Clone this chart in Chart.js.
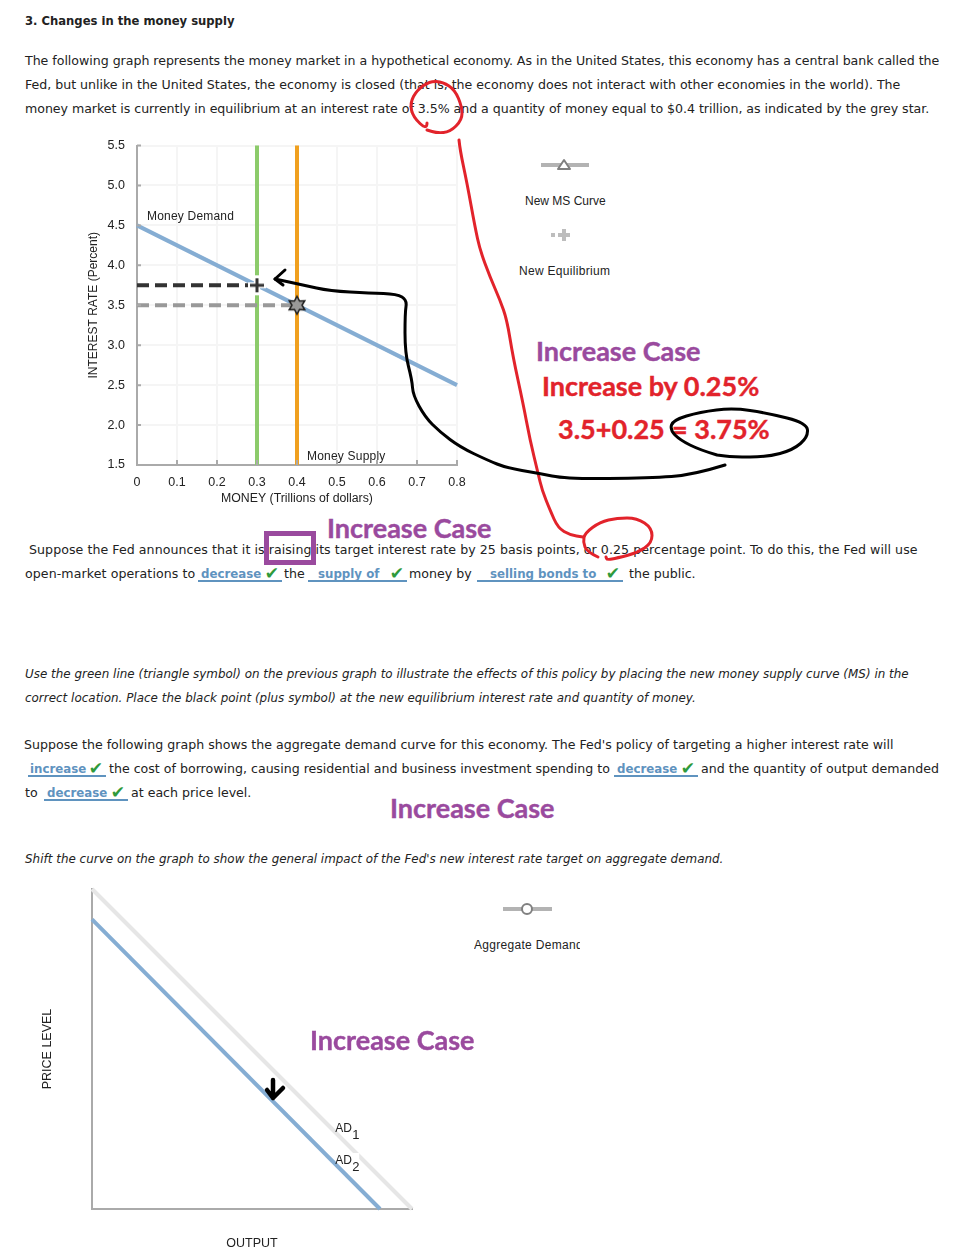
<!DOCTYPE html>
<html>
<head>
<meta charset="utf-8">
<script src="https://cdn.jsdelivr.net/npm/chart.js@4"></script>
<style>
html, body { margin: 0; padding: 0; background: #fff; }
#page { position: relative; width: 960px; height: 1256px; overflow: hidden; }
canvas.chart { position: absolute; }
.t { position: absolute; margin-top: 1px; white-space: pre; font: 12.6px/18px "DejaVu Sans", sans-serif; color: #222; }
.i { font-size: 11.9px; font-style: italic; letter-spacing: 0.03px; }
.b { font-size: 11.6px; font-weight: bold; }
.chip { position: absolute; box-sizing: content-box; height: 16px; border-bottom: 2px solid #5f93bf; white-space: pre; font: bold 11.8px/20px "DejaVu Sans", sans-serif; color: #5f93bf; }
.chip b { position: absolute; right: 3px; top: -1px; color: #2f9a3c; font-size: 17px; }
.lg { position: absolute; white-space: pre; font: 12px/14px "Liberation Sans", sans-serif; color: #222; }
.big { position: absolute; margin-top: -1px; white-space: pre; font: bold 27px/30px Lato, sans-serif; color: #9a4a9e; -webkit-text-stroke: 0.4px currentColor; }
.red { color: #e2232b; }
svg { position: absolute; left: 0; top: 0; pointer-events: none; }
</style>
</head>
<body>
<div id="page">
  <div class="t b" style="left:25px;top:11px">3. Changes in the money supply</div>
  <div class="t" style="left:25px;top:51px;letter-spacing:-0.03px">The following graph represents the money market in a hypothetical economy. As in the United States, this economy has a central bank called the</div>
  <div class="t" style="left:25px;top:75px;letter-spacing:-0.015px">Fed, but unlike in the United States, the economy is closed (that is, the economy does not interact with other economies in the world). The</div>
  <div class="t" style="left:25px;top:99px;letter-spacing:-0.04px">money market is currently in equilibrium at an interest rate of 3.5% and a quantity of money equal to $0.4 trillion, as indicated by the grey star.</div>

  <canvas class="chart" id="moneyChart" style="left:70px;top:126px;width:420px;height:384px"></canvas>
  <canvas class="chart" id="adChart" style="left:30px;top:880px;width:400px;height:372px"></canvas>

  <div class="lg" style="left:525px;top:194px">New MS Curve</div>
  <div class="lg" style="left:519px;top:264px;letter-spacing:0.3px">New Equilibrium</div>
  <div class="lg" style="left:474px;top:938px;width:106px;overflow:hidden;letter-spacing:0.3px">Aggregate Demand</div>

  <div class="big" style="left:536px;top:337px">Increase Case</div>
  <div class="big red" style="left:542px;top:372px">Increase by 0.25%</div>
  <div class="big red" style="left:558px;top:415px">3.5+0.25</div>
  <div class="big red" style="left:672px;top:415px">= 3.75%</div>
  <div class="big" style="left:327px;top:514px">Increase Case</div>

  <div class="t" style="left:29px;top:540px;letter-spacing:0.056px">Suppose the Fed announces that it is raising its target interest rate by 25 basis points, or 0.25 percentage point. To do this, the Fed will use</div>
  <div class="t" style="left:25px;top:564px;letter-spacing:0.08px">open-market operations to</div>
  <div class="chip" style="left:198px;top:564px;width:81px;padding-left:3px">decrease<b>✔</b></div>
  <div class="t" style="left:284px;top:564px">the</div>
  <div class="chip" style="left:308px;top:564px;width:89px;padding-left:10px">supply of<b>✔</b></div>
  <div class="t" style="left:409px;top:564px">money by</div>
  <div class="chip" style="left:477px;top:564px;width:133px;padding-left:13px">selling bonds to<b>✔</b></div>
  <div class="t" style="left:629px;top:564px">the public.</div>

  <div class="t i" style="left:25px;top:664px">Use the green line (triangle symbol) on the previous graph to illustrate the effects of this policy by placing the new money supply curve (MS) in the</div>
  <div class="t i" style="left:25px;top:688px">correct location. Place the black point (plus symbol) at the new equilibrium interest rate and quantity of money.</div>

  <div class="t" style="left:24px;top:735px">Suppose the following graph shows the aggregate demand curve for this economy. The Fed's policy of targeting a higher interest rate will</div>
  <div class="chip" style="left:28px;top:759px;width:76px;padding-left:2px">increase<b>✔</b></div>
  <div class="t" style="left:109px;top:759px">the cost of borrowing, causing residential and business investment spending to</div>
  <div class="chip" style="left:614px;top:759px;width:81px;padding-left:3px">decrease<b>✔</b></div>
  <div class="t" style="left:701px;top:759px">and the quantity of output demanded</div>
  <div class="t" style="left:25px;top:783px">to</div>
  <div class="chip" style="left:44px;top:783px;width:81px;padding-left:3px">decrease<b>✔</b></div>
  <div class="t" style="left:131px;top:783px">at each price level.</div>
  <div class="big" style="left:390px;top:794px">Increase Case</div>
  <div class="t i" style="left:25px;top:849px">Shift the curve on the graph to show the general impact of the Fed's new interest rate target on aggregate demand.</div>
  <div class="big" style="left:310px;top:1026px">Increase Case</div>

  <svg width="960" height="1256" fill="none" stroke-linecap="round" stroke-linejoin="round">
    <!-- palette icons -->
    <path d="M541 165H589" stroke="#b3b3b3" stroke-width="4" stroke-linecap="butt"/>
    <path d="M558 169H570L564 160Z" stroke="#808080" stroke-width="2" fill="#fff"/>
    <path d="M551 235H555" stroke="#bdbdbd" stroke-width="4" stroke-linecap="butt"/>
    <path d="M558 235H570M564 229V241" stroke="#bdbdbd" stroke-width="4" stroke-linecap="butt"/>
    <path d="M503 909H552" stroke="#b3b3b3" stroke-width="4" stroke-linecap="butt"/>
    <circle cx="527" cy="909" r="5" fill="#fff" stroke="#808080" stroke-width="2"/>
    <!-- hand drawn notes on top of the screenshot -->
    <g stroke="#e2232b" stroke-width="3">
      <polyline class="hand" points="427,123 427,130 413,117 410,103 417,90 430,81 443,82 455,90 462,107 462,120 450,132 437,133 427,130"/>
      <polyline class="hand" points="459,140 460,150 467,183 475,227 480,250 490,277 500,300 507,320 513,357 523,403 530,440 538,473 542,490 550,510 558,528 570,535 583,537"/>
      <polyline class="hand" points="598,557 587,552 583,542 585,533 600,522 617,518 637,518 652,528 652,543 637,553 617,558 607,560 606,557"/>
    </g>
    <g stroke="#000" stroke-width="3">
      <polyline class="hand" points="725,465 693,475 650,478 567,479 537,473 507,468 487,460 460,447 440,432 425,417 413,395 412,380 405,353 405,313 407,300 397,294 370,293 330,291 303,285 275,279"/>
      <polyline points="285,270 275,279 283,285"/>
      <polyline class="hand" points="717,455 700,450 680,440 670,430 673,420 700,412 733,408 767,413 807,423 808,437 793,450 767,457 733,457 717,455"/>
      <path d="M273 1080V1098M267 1090L273 1098L283 1088" stroke-width="4.5"/>
    </g>
    <rect x="266.500" y="533.500" width="47" height="29" stroke="#9a4a9e" stroke-width="5" stroke-linejoin="miter"/>
  </svg>
</div>

<script>
// --- money market graph ---
const moneyTicks = [0, 0.1, 0.2, 0.3, 0.4, 0.5, 0.6, 0.7, 0.8];
const rateTicks = [1.5, 2.0, 2.5, 3.0, 3.5, 4.0, 4.5, 5.0, 5.5];
const demandQty = [0, 0.8];
const demandRate = [4.5, 2.5];
const oldSupplyQty = [0.4, 0.4];
const newSupplyQty = [0.3, 0.3];
const supplyRate = [1.5, 5.5];
const oldRateQty = [0, 0.4];
const oldRate = [3.5, 3.5];
const newRateQty = [0, 0.3];
const newRate = [3.75, 3.75];
const oldEquilibrium = [0.4, 3.5];
const newEquilibrium = [0.3, 3.75];

// --- aggregate demand graph ---
const ad1Output = [0, 100];
const ad1Price = [100, 0];
const ad2Output = [0, 90];
const ad2Price = [90.5, 0];

const AXIS = "#aaaaaa";
const FONT = "Liberation Sans";

function zip(xs, ys) {
    return xs.map((x, i) => ({x: x, y: ys[i]}));
}

// round off the hand drawn strokes
document.querySelectorAll("polyline.hand").forEach(el => {
    const p = el.getAttribute("points").split(" ").map(s => s.split(",").map(Number));
    let d = "M" + p[0].join(" ");
    for (let i = 1; i < p.length - 1; i++) {
        const mx = (p[i][0] + p[i + 1][0]) / 2;
        const my = (p[i][1] + p[i + 1][1]) / 2;
        d += " Q" + p[i].join(" ") + " " + mx + " " + my;
    }
    d += " L" + p[p.length - 1].join(" ");
    const path = document.createElementNS("http://www.w3.org/2000/svg", "path");
    path.setAttribute("d", d);
    el.replaceWith(path);
});

function starImage() {
    const c = document.createElement("canvas");
    c.width = 24;
    c.height = 24;
    const g = c.getContext("2d");
    g.beginPath();
    for (let i = 0; i < 12; i++) {
        const r = i % 2 ? 5 : 9;
        const a = Math.PI * i / 6 - Math.PI / 2;
        g.lineTo(12 + r * Math.cos(a), 12 + r * Math.sin(a));
    }
    g.closePath();
    g.fillStyle = "#999";
    g.fill();
    g.strokeStyle = "#222";
    g.lineWidth = 1.5;
    g.stroke();
    return c;
}

function plusImage() {
    const c = document.createElement("canvas");
    c.width = 26;
    c.height = 26;
    const g = c.getContext("2d");
    g.fillStyle = "#fff";
    g.fillRect(4, 10, 18, 6);
    g.fillRect(10, 3, 6, 20);
    g.fillStyle = "#333";
    g.fillRect(6, 11.500, 14, 3);
    g.fillRect(11.500, 6, 3, 14);
    return c;
}

function line(data, color, width, dash) {
    return {
        data: data,
        showLine: true,
        borderColor: color,
        borderWidth: width,
        borderDash: dash || [],
        pointRadius: 0,
        clip: false
    };
}

// little marks on the inner side of the axes, Chart.js only draws them outside
const innerTicks = {
    id: "innerTicks",
    afterDatasetsDraw(chart) {
        const g = chart.ctx;
        const {x, y} = chart.scales;
        g.save();
        g.strokeStyle = AXIS;
        g.lineWidth = 2;
        g.beginPath();
        moneyTicks.forEach(v => {
            g.moveTo(x.getPixelForValue(v), y.bottom);
            g.lineTo(x.getPixelForValue(v), y.bottom - 5);
        });
        rateTicks.forEach(v => {
            g.moveTo(x.left, y.getPixelForValue(v));
            g.lineTo(x.left + 4, y.getPixelForValue(v));
        });
        g.stroke();
        g.restore();
    }
};

const moneyLabels = {
    id: "moneyLabels",
    afterDatasetsDraw(chart) {
        const g = chart.ctx;
        const {x, y} = chart.scales;
        g.save();
        g.font = "12px '" + FONT + "'";
        g.letterSpacing = "0.2px";
        g.fillStyle = "#222";
        g.textBaseline = "middle";
        g.fillText("Money Demand", x.getPixelForValue(0.025), y.getPixelForValue(4.61));
        g.fillText("Money Supply", x.getPixelForValue(0.425), y.getPixelForValue(1.61));
        g.restore();
    }
};

const adLabels = {
    id: "adLabels",
    afterDatasetsDraw(chart) {
        const g = chart.ctx;
        const {x, y} = chart.scales;
        const x0 = x.getPixelForValue(76);
        const y1 = y.getPixelForValue(25);
        const y2 = y.getPixelForValue(15);
        g.save();
        g.fillStyle = "#fff";
        g.fillRect(x0 + 16, y2 - 8, 8, 20);
        g.font = "12px '" + FONT + "'";
        g.fillStyle = "#222";
        g.textBaseline = "middle";
        g.fillText("AD", x0, y1);
        g.fillText("AD", x0, y2);
        g.font = "13px '" + FONT + "'";
        g.fillText("1", x0 + 17, y1 + 6);
        g.fillText("2", x0 + 17, y2 + 6);
        g.restore();
    }
};

const common = {
    responsive: false,
    animation: false,
    plugins: {legend: {display: false}, tooltip: {enabled: false}}
};

function setSize(canvas, w, h) {
    canvas.width = w;
    canvas.height = h;
}

const moneyCanvas = document.querySelector("#moneyChart");
setSize(moneyCanvas, 420, 384);
new Chart(moneyCanvas, {
    type: "scatter",
    data: {
        datasets: [
            // first dataset is painted last
            {data: zip([oldEquilibrium[0]], [oldEquilibrium[1]]), pointStyle: starImage(), clip: false},
            {data: zip([newEquilibrium[0]], [newEquilibrium[1]]), pointStyle: plusImage(), clip: false},
            line(zip(newRateQty, newRate), "#333333", 4, [12, 6]),
            line(zip(oldRateQty, oldRate), "#999999", 4, [12, 6]),
            line(zip(newSupplyQty, supplyRate), "#8ccb6b", 4),
            line(zip(oldSupplyQty, supplyRate), "#f0a01f", 4),
            line(zip(demandQty, demandRate), "#85add3", 4)
        ]
    },
    options: {
        ...common,
        layout: {padding: {top: 11, right: 33}},
        scales: {
            x: {
                type: "linear",
                min: 0,
                max: 0.8,
                afterBuildTicks: axis => { axis.ticks = moneyTicks.map(v => ({value: v})); },
                afterFit: axis => { axis.height = 45; },
                grid: {color: "#f5f5f5", lineWidth: 2, drawTicks: false},
                border: {color: AXIS, width: 2},
                ticks: {
                    padding: 10,
                    maxRotation: 0,
                    autoSkip: false,
                    color: "#222",
                    font: {family: FONT, size: 12.5},
                    callback: v => (v === 0 ? "0" : v.toFixed(1))
                },
                title: {
                    display: true,
                    text: "MONEY (Trillions of dollars)",
                    color: "#222",
                    font: {family: FONT, size: 12.3},
                    padding: {top: 0, bottom: 4}
                }
            },
            y: {
                type: "linear",
                min: 1.5,
                max: 5.5,
                afterBuildTicks: axis => { axis.ticks = rateTicks.map(v => ({value: v})); },
                afterFit: axis => { axis.width = 67; },
                grid: {color: "#f5f5f5", lineWidth: 2, drawTicks: false},
                border: {color: AXIS, width: 2},
                ticks: {
                    padding: 12,
                    autoSkip: false,
                    color: "#222",
                    font: {family: FONT, size: 12.5},
                    callback: v => v.toFixed(1)
                },
                title: {
                    display: true,
                    text: "INTEREST RATE (Percent)",
                    color: "#222",
                    font: {family: FONT, size: 12},
                    padding: {top: 16, bottom: 0}
                }
            }
        }
    },
    plugins: [innerTicks, moneyLabels]
});

const adCanvas = document.querySelector("#adChart");
setSize(adCanvas, 400, 372);
new Chart(adCanvas, {
    type: "scatter",
    data: {
        datasets: [
            line(zip(ad2Output, ad2Price), "#85add3", 4),
            line(zip(ad1Output, ad1Price), "#e6e6e6", 4)
        ]
    },
    options: {
        ...common,
        layout: {padding: {top: 9, right: 18}},
        scales: {
            x: {
                type: "linear",
                min: 0,
                max: 100,
                afterFit: axis => { axis.height = 43; },
                grid: {display: false},
                border: {color: AXIS, width: 2},
                ticks: {display: false},
                title: {
                    display: true,
                    text: "OUTPUT",
                    color: "#222",
                    font: {family: FONT, size: 12.5},
                    padding: {top: 0, bottom: 1}
                }
            },
            y: {
                type: "linear",
                min: 0,
                max: 100,
                afterFit: axis => { axis.width = 62; },
                grid: {display: false},
                border: {color: AXIS, width: 2},
                ticks: {display: false},
                title: {
                    display: true,
                    text: "PRICE LEVEL",
                    color: "#222",
                    font: {family: FONT, size: 12.5},
                    padding: {top: 10, bottom: 0}
                }
            }
        }
    },
    plugins: [adLabels]
});
</script>
</body>
</html>
